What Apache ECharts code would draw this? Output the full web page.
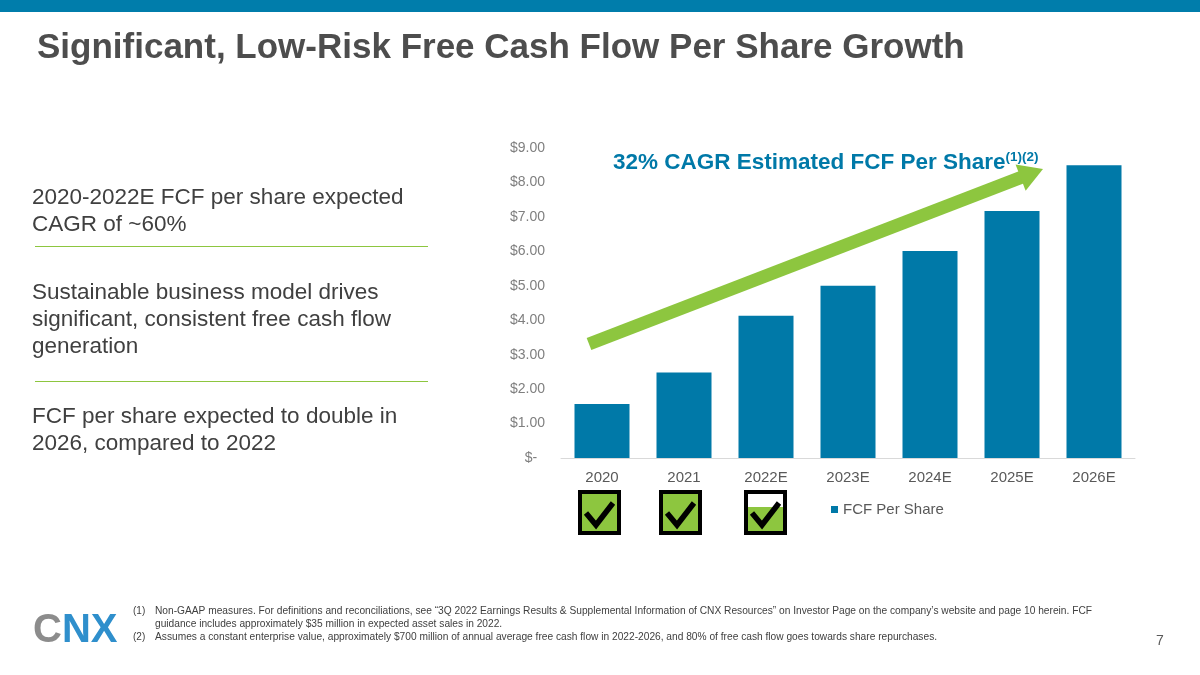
<!DOCTYPE html>
<html>
<head>
<meta charset="utf-8">
<title>FCF Per Share</title>
<script src="https://cdn.jsdelivr.net/npm/echarts@6/dist/echarts.min.js"></script>
<style>
	html, body { margin: 0; padding: 0; background: #ffffff; }
	#main { width: 1200px; height: 675px; }
</style>
</head>
<body>
<div id="main"></div>
<script>
	// chart data
	var years = ["2020", "2021", "2022E", "2023E", "2024E", "2025E", "2026E"];
	var fcfPerShare = [1.57, 2.48, 4.13, 5.00, 6.01, 7.17, 8.50];
	var seriesName = "FCF Per Share";
	var yTicks = [0, 1, 2, 3, 4, 5, 6, 7, 8, 9];

	var FONT = "'Liberation Sans', Arial, Helvetica, sans-serif";
	var BLUE = "#0079a8";
	var GREEN = "#8dc63f";
	var TEXT = "#404040";

	// check boxes under the actual years, last one partly filled
	function checkBox(x, y, partial) {
		var kids = [
			{ type: "rect", shape: { x: x, y: y, width: 43, height: 45 }, style: { fill: "#000" } },
			{ type: "rect", shape: { x: x + 4, y: y + 4, width: 35, height: 37 }, style: { fill: GREEN } }
		];
		if (partial) {
			kids.push({ type: "rect", shape: { x: x + 4, y: y + 4, width: 35, height: 13 }, style: { fill: "#fff" } });
		}
		kids.push({
			type: "polyline",
			shape: { points: [[x + 8, y + 23], [x + 18, y + 35], [x + 35, y + 13]] },
			style: { stroke: "#000", lineWidth: 5.5, fill: null }
		});
		return { type: "group", children: kids };
	}

	function textBlock(top, lines) {
		return {
			type: "text", left: 32, top: top,
			style: { text: lines.join("\n"), font: "22.5px " + FONT, fill: TEXT, lineHeight: 27 }
		};
	}

	function hline(y) {
		return { type: "line", shape: { x1: 35, y1: y, x2: 428, y2: y }, style: { stroke: GREEN, lineWidth: 1.2 } };
	}

	// green growth arrow
	var ax1 = 589, ay1 = 344, tipX = 1043, tipY = 169;
	var dx = tipX - ax1, dy = tipY - ay1, len = Math.sqrt(dx * dx + dy * dy);
	var ux = dx / len, uy = dy / len, px = -uy, py = ux;
	var headLen = 24, headHalf = 14;
	var bx = tipX - ux * headLen, by = tipY - uy * headLen;

	var graphics = [
		{ type: "rect", shape: { x: 0, y: 0, width: 1200, height: 12 }, style: { fill: "#007dab" } },
		textBlock(184.5, ["2020-2022E FCF per share expected", "CAGR of ~60%"]),
		hline(246.5),
		textBlock(279, ["Sustainable business model drives", "significant, consistent free cash flow", "generation"]),
		hline(381.5),
		textBlock(403, ["FCF per share expected to double in", "2026, compared to 2022"]),
		{ type: "line", shape: { x1: ax1, y1: ay1, x2: bx + ux * 2, y2: by + uy * 2 }, style: { stroke: GREEN, lineWidth: 13 } },
		{
			type: "polygon",
			shape: { points: [[tipX, tipY], [bx + px * headHalf, by + py * headHalf], [bx - px * headHalf, by - py * headHalf]] },
			style: { fill: GREEN }
		},
		checkBox(578, 490, false),
		checkBox(659, 490, false),
		checkBox(744, 490, true),
		{
			type: "text", left: 33, top: 611,
			style: {
				text: "{c|C}{n|NX}",
				rich: {
					c: { font: "900 40px " + FONT, fill: "#8c8c8c" },
					n: { font: "900 40px " + FONT, fill: "#2f8fcc" }
				}
			}
		},
		{
			type: "text", left: 133, top: 605,
			style: { text: "(1)\n\n(2)", font: "10px " + FONT, fill: TEXT, lineHeight: 12.8 }
		},
		{
			type: "text", left: 155, top: 605,
			style: {
				text: "Non-GAAP measures. For definitions and reconciliations, see \u201c3Q 2022 Earnings Results & Supplemental Information of CNX Resources\u201d on Investor Page on the company\u2019s website and page 10 herein. FCF\nguidance includes approximately $35 million in expected asset sales in 2022.\nAssumes a constant enterprise value, approximately $700 million of annual average free cash flow in 2022-2026, and 80% of free cash flow goes towards share repurchases.",
				font: "10.2px " + FONT, fill: TEXT, lineHeight: 12.8
			}
		},
		{ type: "text", left: 1156, top: 634, style: { text: "7", font: "14px " + FONT, fill: "#595959" } }
	];

	var option = {
		animation: false,
		backgroundColor: "#ffffff",
		title: [{
			text: "Significant, Low-Risk Free Cash Flow Per Share Growth",
			left: 32, top: 26,
			textStyle: { fontFamily: FONT, fontSize: 35, fontWeight: "bold", color: "#4d4d4d" }
		}, {
			text: "{a|32% CAGR Estimated FCF Per Share}{s|(1)(2)}",
			left: 608, top: 145,
			textStyle: {
				rich: {
					a: { fontFamily: FONT, fontSize: 22.5, fontWeight: "bold", color: BLUE, lineHeight: 26 },
					s: { fontFamily: FONT, fontSize: 13.5, fontWeight: "bold", color: BLUE, verticalAlign: "top", lineHeight: 26, padding: [0, 0, 9, 0] }
				}
			}
		}],
		legend: {
			data: [seriesName],
			left: 826, top: 497,
			icon: "rect", itemWidth: 7, itemHeight: 7, itemGap: 5,
			textStyle: { fontFamily: FONT, fontSize: 15, color: "#595959" }
		},
		grid: { left: 561, right: 65, top: 148, bottom: 217 },
		xAxis: [{
			type: "category",
			data: years,
			axisTick: { show: false },
			axisLine: { lineStyle: { color: "#d9d9d9", width: 1 } },
			axisLabel: { fontFamily: FONT, fontSize: 15, color: "#595959", margin: 12 }
		}],
		yAxis: [{
			type: "value",
			min: yTicks[0], max: yTicks[yTicks.length - 1], interval: 1,
			splitLine: { show: false },
			axisLine: { show: false },
			axisTick: { show: false },
			axisLabel: {
				fontFamily: FONT, fontSize: 14, color: "#7f7f7f", margin: 16,
				formatter: function(v) {
					return v === 0 ? "$-  " : "$" + v.toFixed(2);
				}
			}
		}],
		series: [{
			name: seriesName,
			type: "bar",
			barWidth: 55,
			itemStyle: { color: BLUE },
			data: fcfPerShare
		}],
		graphic: graphics
	};

	var myChart = echarts.init(document.getElementById("main"));
	myChart.setOption(option);
</script>
</body>
</html>
